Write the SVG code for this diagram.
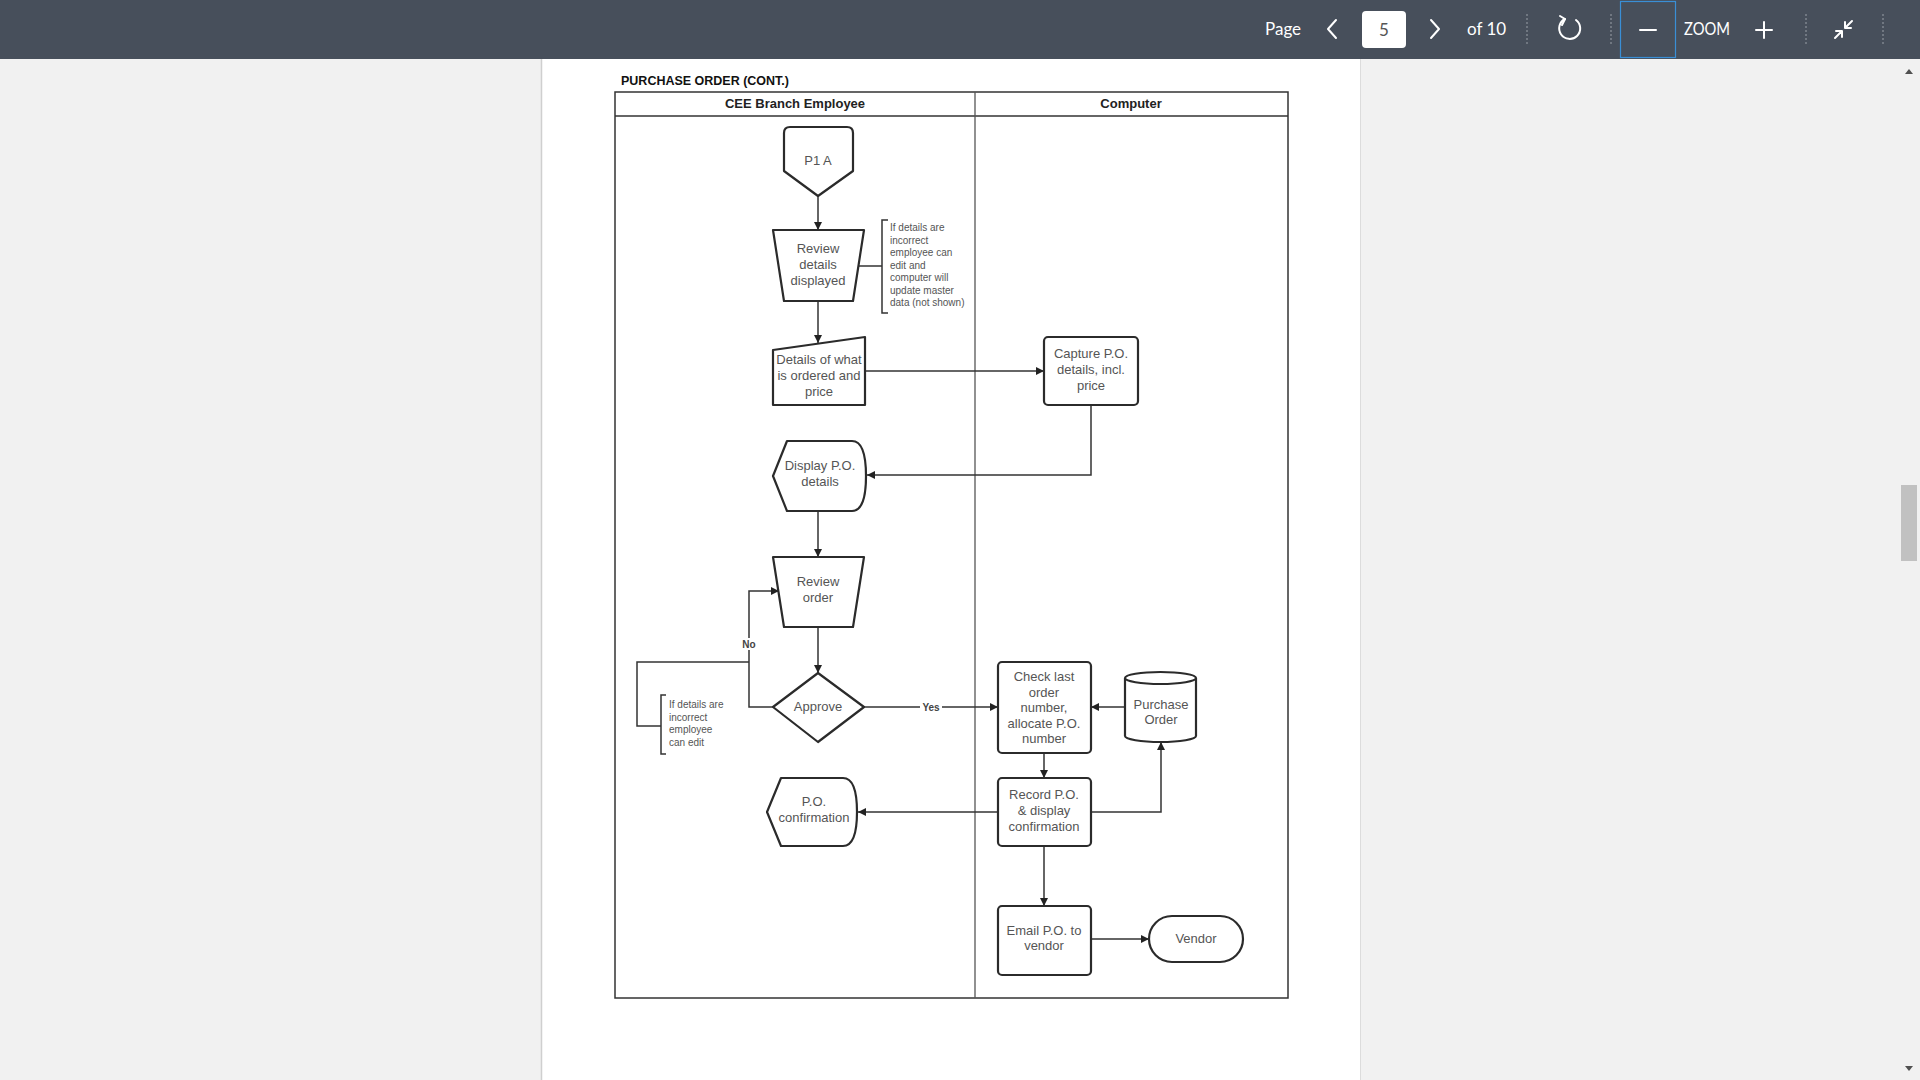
<svg xmlns="http://www.w3.org/2000/svg" width="1920" height="1080" viewBox="0 0 1920 1080">
<style>
.node{fill:#fff;stroke:#2b2b2b;stroke-width:2.2;stroke-linejoin:round}
.t{font-family:"Liberation Sans",Arial,sans-serif;font-size:13px;fill:#555;text-anchor:middle}
.note{font-family:"Liberation Sans",Arial,sans-serif;font-size:10px;fill:#555}
.hdr{font-family:"Liberation Sans",Arial,sans-serif;font-size:13px;font-weight:bold;fill:#222;text-anchor:middle}
.c{fill:none;stroke:#333;stroke-width:1.5}
.ca{fill:none;stroke:#333;stroke-width:1.5;marker-end:url(#ah)}
.lbl{font-family:"Liberation Sans",Arial,sans-serif;font-size:10px;font-weight:bold;fill:#444;text-anchor:middle}
.tb{font-family:Lato,"Open Sans",sans-serif;font-size:17px;fill:#fff}
.ic{fill:none;stroke:#fff;stroke-width:2;stroke-linecap:round;stroke-linejoin:round}
.sep{stroke:#9aa0a8;stroke-width:1;stroke-dasharray:2 2}
</style>
<defs>
<marker id="ah" viewBox="0 0 10 10" refX="10" refY="5" markerWidth="8" markerHeight="8" markerUnits="userSpaceOnUse" orient="auto"><path d="M0,0 L10,5 L0,10 Z" fill="#222"/></marker>
</defs>
<rect x="0" y="0" width="1920" height="1080" fill="#f1f1f1"/>
<rect x="541" y="59" width="819" height="1021" fill="#fff"/>
<line x1="541.5" y1="59" x2="541.5" y2="1080" stroke="#cfcfcf" stroke-width="1.5"/>
<line x1="1360.5" y1="59" x2="1360.5" y2="1080" stroke="#dcdcdc" stroke-width="1"/>

<g id="toolbar">
<rect x="0" y="0" width="1920" height="59" fill="#474f5b"/>
<text class="tb" x="1265" y="35">Page</text>
<polyline class="ic" points="1336,20 1328,29 1336,38"/>
<rect x="1362" y="11" width="44" height="37" rx="4" fill="#fff"/>
<text x="1384" y="36" font-family="Lato,'Open Sans',sans-serif" font-size="17" fill="#555" text-anchor="middle">5</text>
<polyline class="ic" points="1431,20 1439,29 1431,38"/>
<text class="tb" x="1467" y="35">of 10</text>
<line class="sep" x1="1527" y1="14" x2="1527" y2="46"/>
<path class="ic" d="M1565,19 A10.5,10.5 0 1 0 1576,20"/>
<polyline class="ic" points="1560,16 1565,19 1562,25"/>
<line class="sep" x1="1611" y1="14" x2="1611" y2="46"/>
<rect x="1620.5" y="1.5" width="55" height="56" fill="none" stroke="#3a8fd6" stroke-width="1.2"/>
<line class="ic" x1="1640" y1="30" x2="1656" y2="30"/>
<text class="tb" x="1684" y="35" font-size="14" textLength="46" lengthAdjust="spacingAndGlyphs">ZOOM</text>
<line class="ic" x1="1756" y1="30" x2="1772" y2="30"/>
<line class="ic" x1="1764" y1="22" x2="1764" y2="38"/>
<line class="sep" x1="1806" y1="14" x2="1806" y2="46"/>
<path class="ic" d="M1835,38 L1842,31 M1836,31 L1842,31 L1842,37 M1852,21 L1845,28 M1845,22 L1845,28 L1851,28"/>
<line class="sep" x1="1883" y1="14" x2="1883" y2="46"/>
</g>

<g id="scrollbar">
<rect x="1901" y="485" width="16" height="76" fill="#c1c1c1"/>
<path d="M1905,74 L1909,69 L1913,74 Z" fill="#505050"/>
<path d="M1905,1066 L1909,1071 L1913,1066 Z" fill="#505050"/>
</g>

<text x="621" y="85" font-family="'Liberation Sans',Arial,sans-serif" font-size="13" font-weight="bold" fill="#111" textLength="168" lengthAdjust="spacingAndGlyphs">PURCHASE ORDER (CONT.)</text>

<g id="swimlanes">
<rect x="615" y="92" width="673" height="906" fill="none" stroke="#333" stroke-width="1.5"/>
<line x1="615" y1="116" x2="1288" y2="116" stroke="#333" stroke-width="1.5"/>
<line x1="975" y1="92" x2="975" y2="998" stroke="#555" stroke-width="1.3"/>
<text class="hdr" x="795" y="108">CEE Branch Employee</text>
<text class="hdr" x="1131" y="108">Computer</text>
</g>

<g id="connectors">
<line class="ca" x1="818" y1="196" x2="818" y2="230"/>
<line class="ca" x1="818" y1="301" x2="818" y2="343"/>
<line class="ca" x1="865" y1="371" x2="1044" y2="371"/>
<polyline class="ca" points="1091,405 1091,475 867,475"/>
<line class="ca" x1="818" y1="511" x2="818" y2="557"/>
<line class="ca" x1="818" y1="627" x2="818" y2="673"/>
<polyline class="ca" points="773,707 749,707 749,591 779,591"/>
<polyline class="c" points="749,662 637,662 637,726 661,726"/>
<line class="ca" x1="864" y1="707" x2="998" y2="707"/>
<line class="ca" x1="1125" y1="707" x2="1091" y2="707"/>
<line class="ca" x1="1044" y1="753" x2="1044" y2="778"/>
<polyline class="ca" points="1091,812 1161,812 1161,742"/>
<line class="ca" x1="998" y1="812" x2="858" y2="812"/>
<line class="ca" x1="1044" y1="846" x2="1044" y2="906"/>
<line class="ca" x1="1091" y1="939" x2="1149" y2="939"/>
<line class="c" x1="858" y1="266" x2="882" y2="266"/>
<rect x="741" y="638" width="17" height="12" fill="#fff"/>
<text class="lbl" x="749" y="648">No</text>
<rect x="920" y="701" width="22" height="12" fill="#fff"/>
<text class="lbl" x="931" y="711">Yes</text>
</g>

<g id="p1a">
<path class="node" d="M790,127 L847,127 Q853,127 853,133 L853,171 L818,196 L784,171 L784,133 Q784,127 790,127 Z"/>
<text class="t" x="818" y="165">P1 A</text>
</g>

<g id="review-details">
<path class="node" d="M773,230 L864,230 L853,301 L784,301 Z"/>
<text class="t" x="818" y="253">Review</text>
<text class="t" x="818" y="269">details</text>
<text class="t" x="818" y="285">displayed</text>
</g>

<g id="note1">
<path class="c" d="M888,220 L882,220 L882,313 L888,313" stroke-width="1.8"/>
<text class="note" x="890" y="231">If details are</text>
<text class="note" x="890" y="243.5">incorrect</text>
<text class="note" x="890" y="256">employee can</text>
<text class="note" x="890" y="268.5">edit and</text>
<text class="note" x="890" y="281">computer will</text>
<text class="note" x="890" y="293.5">update master</text>
<text class="note" x="890" y="306">data (not shown)</text>
</g>

<g id="details-ordered">
<path class="node" d="M773,350 L865,337 L865,405 L773,405 Z"/>
<text class="t" x="819" y="364">Details of what</text>
<text class="t" x="819" y="380">is ordered and</text>
<text class="t" x="819" y="396">price</text>
</g>

<g id="capture-po">
<rect class="node" x="1044" y="337" width="94" height="68" rx="4"/>
<text class="t" x="1091" y="358">Capture P.O.</text>
<text class="t" x="1091" y="374">details, incl.</text>
<text class="t" x="1091" y="390">price</text>
</g>

<g id="display-po">
<path class="node" d="M787,441 L852,441 Q866,441 866,476 Q866,511 852,511 L787,511 L773,476 Z"/>
<text class="t" x="820" y="470">Display P.O.</text>
<text class="t" x="820" y="486">details</text>
</g>

<g id="review-order">
<path class="node" d="M773,557 L864,557 L853,627 L784,627 Z"/>
<text class="t" x="818" y="586">Review</text>
<text class="t" x="818" y="602">order</text>
</g>

<g id="approve">
<path class="node" d="M818,673 L864,707 L818,742 L773,707 Z"/>
<text class="t" x="818" y="711">Approve</text>
</g>

<g id="note2">
<path class="c" d="M666,695 L661,695 L661,754 L666,754" stroke-width="1.8"/>
<text class="note" x="669" y="708">If details are</text>
<text class="note" x="669" y="720.5">incorrect</text>
<text class="note" x="669" y="733">employee</text>
<text class="note" x="669" y="745.5">can edit</text>
</g>

<g id="check-last">
<rect class="node" x="998" y="662" width="93" height="91" rx="4"/>
<text class="t" x="1044" y="681">Check last</text>
<text class="t" x="1044" y="697">order</text>
<text class="t" x="1044" y="712">number,</text>
<text class="t" x="1044" y="728">allocate P.O.</text>
<text class="t" x="1044" y="743">number</text>
</g>

<g id="purchase-order-db">
<path class="node" d="M1125,678 A35.5,6 0 0 1 1196,678 L1196,736 A35.5,6 0 0 1 1125,736 Z"/>
<path class="node" d="M1125,678 A35.5,6 0 0 0 1196,678" fill="none"/>
<text class="t" x="1161" y="709">Purchase</text>
<text class="t" x="1161" y="724">Order</text>
</g>

<g id="record-po">
<rect class="node" x="998" y="778" width="93" height="68" rx="4"/>
<text class="t" x="1044" y="799">Record P.O.</text>
<text class="t" x="1044" y="815">&amp; display</text>
<text class="t" x="1044" y="831">confirmation</text>
</g>

<g id="po-confirmation">
<path class="node" d="M781,778 L843,778 Q857,778 857,812 Q857,846 843,846 L781,846 L767,812 Z"/>
<text class="t" x="814" y="806">P.O.</text>
<text class="t" x="814" y="822">confirmation</text>
</g>

<g id="email-po">
<rect class="node" x="998" y="906" width="93" height="69" rx="4"/>
<text class="t" x="1044" y="935">Email P.O. to</text>
<text class="t" x="1044" y="950">vendor</text>
</g>

<g id="vendor">
<rect class="node" x="1149" y="916" width="94" height="46" rx="23"/>
<text class="t" x="1196" y="943">Vendor</text>
</g>
</svg>
